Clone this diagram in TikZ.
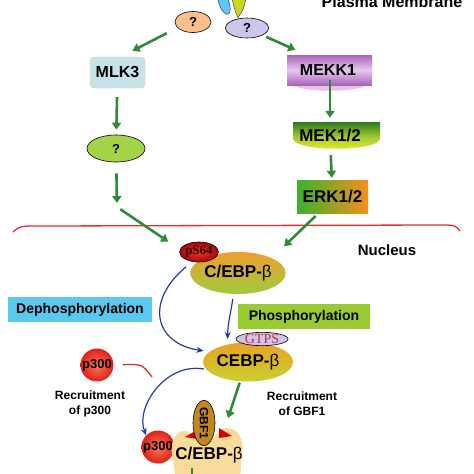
\documentclass[tikz,border=0pt]{standalone}
\usepackage{fontspec}
\setmainfont{Liberation Sans}
\newfontfamily\serifrm{Liberation Serif}
\usetikzlibrary{shapes.geometric,arrows.meta}

\definecolor{arrowgreen}{RGB}{46,139,58}
\definecolor{arrowblue}{RGB}{40,60,160}
\definecolor{membred}{RGB}{230,45,40}
\definecolor{qorange}{RGB}{249,192,140}
\definecolor{qlilac}{RGB}{205,197,236}
\definecolor{qgreen}{RGB}{163,212,72}
\definecolor{mlkfill}{RGB}{197,227,232}
\definecolor{mlkborder}{RGB}{214,214,140}
\definecolor{mekkdark}{RGB}{168,102,184}
\definecolor{mekklight}{RGB}{232,198,240}
\definecolor{mekkpink}{RGB}{234,192,234}
\definecolor{mekdark}{RGB}{45,122,34}
\definecolor{mekmid}{RGB}{168,200,50}
\definecolor{meklight}{RGB}{236,242,42}
\definecolor{erkgreen}{RGB}{60,176,48}
\definecolor{erkorange}{RGB}{245,144,28}
\definecolor{cebporange}{RGB}{240,158,48}
\definecolor{cebpgreen}{RGB}{160,204,60}
\definecolor{cebpgold}{RGB}{234,162,36}
\definecolor{cebpyellow}{RGB}{200,208,48}
\definecolor{psin}{RGB}{236,50,36}
\definecolor{psout}{RGB}{168,8,8}
\definecolor{p3in}{RGB}{246,122,85}
\definecolor{p3out}{RGB}{224,32,26}
\definecolor{dephcol}{RGB}{91,200,240}
\definecolor{phoscol}{RGB}{153,204,51}
\definecolor{gtpsred}{RGB}{200,50,50}
\definecolor{gbfcol}{RGB}{196,134,30}
\definecolor{blobcol}{RGB}{249,220,156}
\definecolor{recblue}{RGB}{96,200,240}
\definecolor{recyellow}{RGB}{200,216,32}

\newcommand{\bet}{{\mdseries β}}

\begin{document}
\begin{tikzpicture}[
    x=1pt, y=-1pt,
    >={Triangle[length=7pt,width=9pt]}, % 矢印のスタイル
    garrow/.style={->, draw=arrowgreen, line width=2.6pt},
    barrow/.style={-{Stealth[length=7pt,width=6pt]}, draw=arrowblue, line width=1.2pt},
    qmark/.style={ellipse, draw, line width=0.6pt, inner sep=0pt,
        font=\bfseries\fontsize{13}{13}\selectfont},
    lbl/.style={inner sep=0pt, font=\bfseries\fontsize{16}{16}\selectfont},
    biglbl/.style={inner sep=0pt, font=\bfseries\fontsize{17}{17}\selectfont},
    tag/.style={inner sep=0pt, font=\bfseries\fontsize{14}{14}\selectfont},
    note/.style={align=center, font=\bfseries\fontsize{12}{15}\selectfont},
    ball/.style={circle, minimum size=33pt, inner sep=0pt, inner color=p3in,
        outer color=p3out, font=\bfseries\fontsize{13}{13}\selectfont},
    ]

    % --- 背景 ---
    \useasboundingbox (0,0) rectangle (474,474);
    \fill[white] (0,0) rectangle (474,474);

    % --- 細胞膜と受容体 ---
    \node[anchor=base, font=\bfseries\fontsize{16}{16}\selectfont] (pm) at (392,7) {Plasma Membrane};
    \draw[fill=recblue, draw=arrowblue, line width=0.5pt, rotate around={20:(224,3)}]
        (224,3) ellipse [x radius=5, y radius=12];
    \draw[fill=recyellow, draw=black!70, line width=0.5pt]
        (232,-2) -- (246,-2) .. controls (244,8) .. (238,18) .. controls (234,8) .. cycle;

    \node[qmark, fill=qorange, minimum width=36pt, minimum height=21pt] (q1) at (193,22) {?};
    \node[qmark, fill=qlilac, minimum width=43pt, minimum height=20pt] (q2) at (247,28) {?};

    % --- 左の経路 ---
    \node[lbl, rectangle, rounded corners=4pt, draw=mlkborder, fill=mlkfill,
        minimum width=55pt, minimum height=31pt] (mlk) at (117.5,72.5) {MLK3};
    \node[qmark, fill=qgreen, minimum width=58pt, minimum height=27pt] (q3) at (116,148.5) {?};
    \coordinate (lk) at (117,207);

    % --- 右の経路 ---
    % MEKK1 (下に膨らみ)
    \fill[mekkpink] (290,84) .. controls (302,93) and (358,93) .. (370,84) -- cycle;
    \shade[top color=mekkdark, bottom color=mekkdark, middle color=mekklight]
        (287,55) rectangle (372,85);
    \node[lbl, minimum width=85pt, minimum height=30pt] (mekk) at (328,70) {MEKK1};
    % MEK1/2 (下が丸い)
    \shade[top color=mekdark, bottom color=meklight, middle color=mekmid]
        (293,122) -- (380,122) -- (380,139) .. controls (377,152) and (296,152) .. (293,139) -- cycle;
    \node[biglbl, minimum width=70pt, minimum height=28pt] (mek) at (330,136) {MEK1/2};
    % ERK1/2
    \shade[left color=erkgreen, right color=erkorange] (297,180) rectangle (368,213);
    \node[biglbl, minimum width=71pt, minimum height=33pt] (erk) at (332.5,196.5) {ERK1/2};

    % --- 核膜 ---
    \draw[membred, line width=1.3pt]
        (13,232) .. controls (20,226) .. (40,226) -- (440,225) .. controls (455,225) .. (460,231);
    \node[font=\bfseries\fontsize{15}{15}\selectfont] (nuc) at (387,250) {Nucleus};

    % --- C/EBP-beta ---
    \node[biglbl, ellipse, minimum width=90pt, minimum height=42pt,
        top color=cebporange, bottom color=cebpgreen] (c1) at (238,273) {\raisebox{-3pt}{C/EBP-\bet}};
    \node[ellipse, draw, line width=0.6pt, inner sep=0pt, minimum width=38pt, minimum height=20pt,
        inner color=psin, outer color=psout, text=black!80!red,
        font=\serifrm\bfseries\fontsize{13}{13}\selectfont] (ps) at (199,252) {pS64};

    \node[tag, fill=dephcol, minimum width=144pt, minimum height=25pt] (deph) at (80,309.5) {Dephosphorylation};
    \node[tag, fill=phoscol, minimum width=132pt, minimum height=25pt] (phos) at (304,316.5) {Phosphorylation};

    \node[biglbl, ellipse, minimum width=90pt, minimum height=39pt,
        top color=cebpgold, bottom color=cebpyellow] (c2) at (248,362) {CEBP-\bet};
    \node[ellipse, draw, line width=0.6pt, inner sep=0pt, minimum width=52pt, minimum height=13pt,
        fill=qlilac, text=gtpsred, font=\serifrm\fontsize{14}{14}\selectfont] (gtps) at (262,339) {GTPS};

    \node[ball] (p3a) at (97,365) {p300};
    \coordinate (rend) at (152,377);

    \node[note] (rp3) at (90,404) {Recruitment\\of p300};
    \node[note] (rgbf) at (302,404) {Recruitment\\of GBF1};

    % --- 下の複合体 ---
    \node[ball] (p3b) at (158,447) {p300};
    \fill[blobcol] (172,455) .. controls (170,438) and (178,430) .. (186,431)
        .. controls (195,433) and (197,444) .. (205,444)
        .. controls (213,444) and (216,430) .. (226,428)
        .. controls (238,427) and (244,440) .. (242,452) -- (240,480) -- (176,480) -- cycle;
    \fill[red!85!black] (197,430) -- (185,437) -- (198,439) -- cycle;
    \fill[red!85!black] (219,428) -- (232,436) -- (219,438) -- cycle;
    \node[ellipse, draw, line width=0.6pt, fill=gbfcol, inner sep=0pt, rotate=-90,
        minimum width=41pt, minimum height=22pt, font=\bfseries\fontsize{12}{12}\selectfont] (gbf) at (204,423) {GBF1};
    \node[biglbl] (c3) at (209,455) {C/EBP-\bet};

    % --- 緑の矢印 ---
    \draw[garrow, shorten <=12pt] (q1.200) -- ([xshift=15pt,yshift=6pt]mlk.north);
    \draw[garrow, shorten <=4pt] (q2.-25) -- ([xshift=10pt,yshift=5pt]mekk.north west);
    \draw[garrow, shorten <=9pt, shorten >=5pt] (mlk) -- (q3);
    \draw[garrow, shorten <=11pt, shorten >=4pt] (q3) -- (lk);
    \draw[garrow, shorten <=4pt, shorten >=37pt] (lk) -- (ps.south);
    \draw[garrow, shorten <=10pt, shorten >=4pt] ([xshift=2pt]mekk.center) -- (mek);
    \draw[garrow, shorten <=5pt, shorten >=2pt] (mek) -- (erk);
    \draw[garrow, shorten <=4pt, shorten >=17pt] ([xshift=-14pt]erk.south) -- (c1.north east);
    \draw[garrow, shorten <=1pt] ([xshift=-8pt]c2.south) -- ([xshift=24pt,yshift=5pt]gbf.center);
    \draw[draw=arrowgreen, line width=2.6pt] ([xshift=-17pt,yshift=-5pt]c3.south) -- ++(0,14);

    % --- 青の矢印 ---
    \draw[barrow, shorten <=8pt, shorten >=6pt] (ps.235) .. controls +(-48,40) and +(-55,-8) .. (c2.165);
    \draw[barrow, shorten <=5pt] (c1.258) .. controls +(-3,20) and +(0,-15) .. ([xshift=-8pt]gtps.west);
    \draw[barrow, shorten <=2pt] (c2.190) .. controls (165,362) and (135,408) .. (p3b.north west);

    % --- p300 の赤線 ---
    \draw[membred, line width=1.3pt, shorten <=9pt] (p3a.east) .. controls (142,364) .. (rend);

\end{tikzpicture}
\end{document}
